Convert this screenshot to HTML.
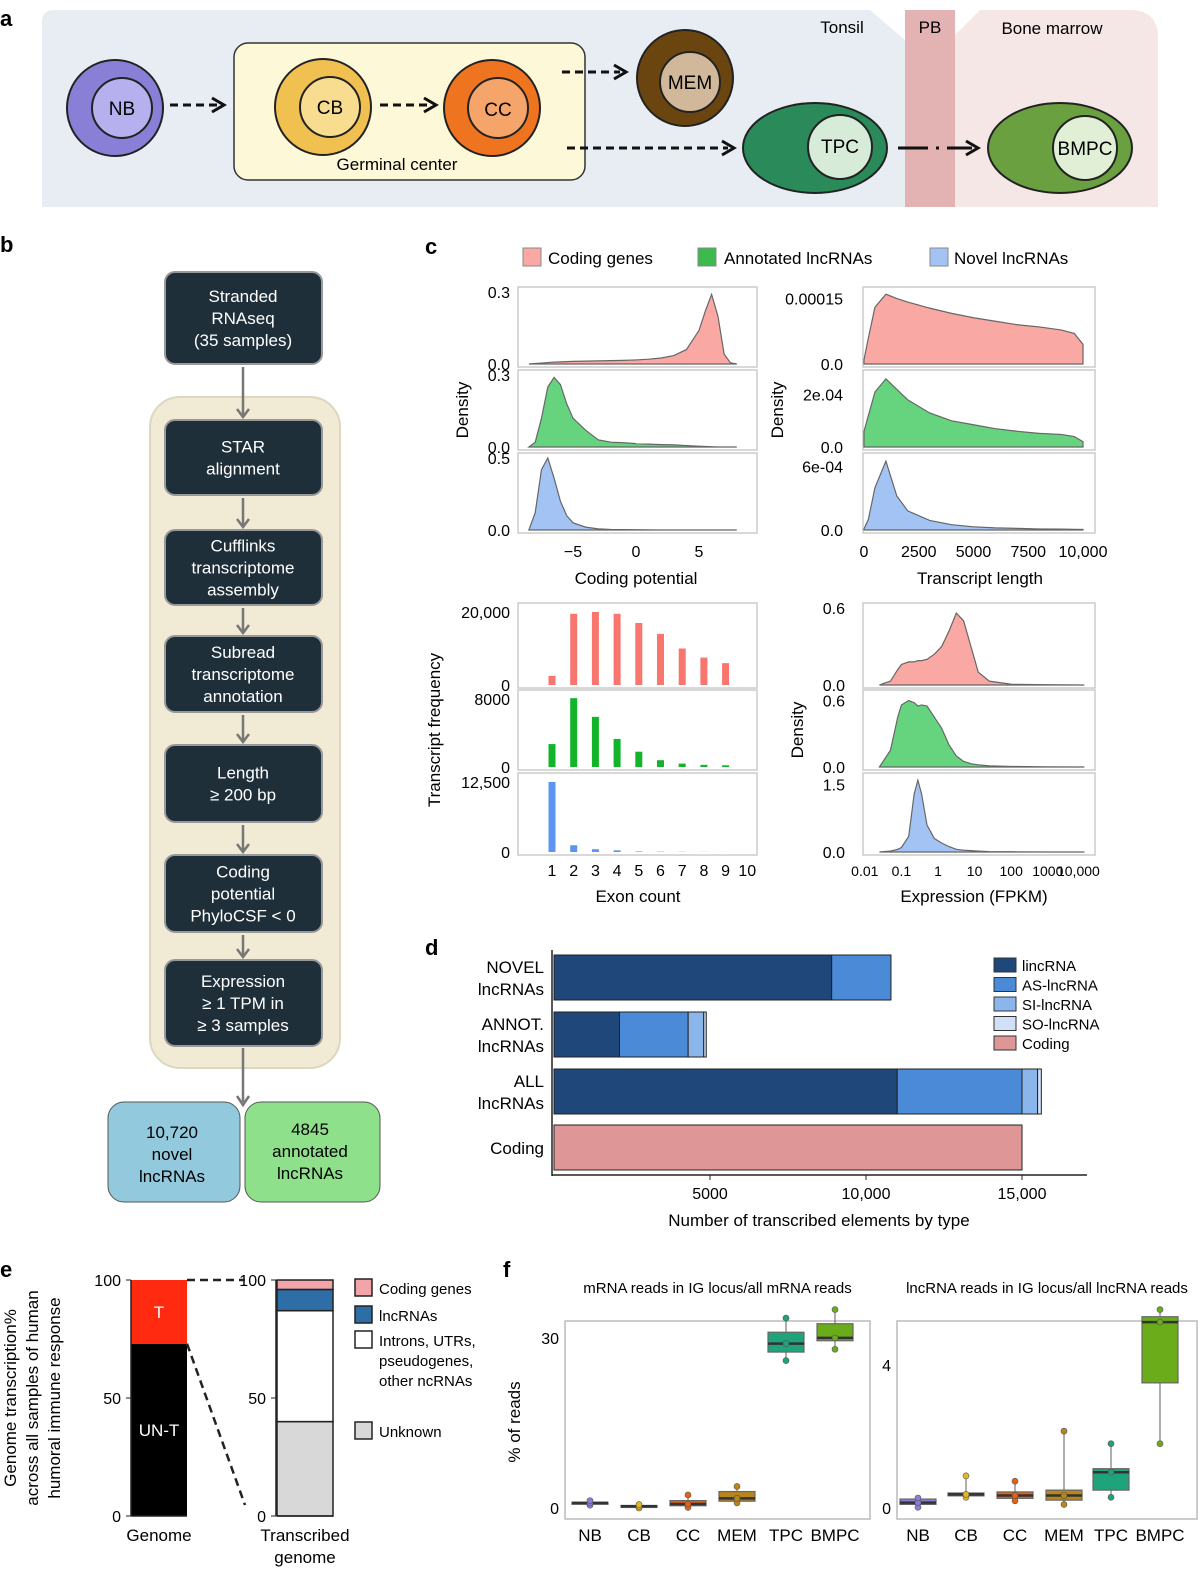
<!DOCTYPE html>
<html><head><meta charset="utf-8"><style>
html,body{margin:0;padding:0;background:#fff}
svg{display:block;font-family:"Liberation Sans",sans-serif}
</style></head><body>
<svg id="fig" width="1200" height="1580" viewBox="0 0 1200 1580" xmlns="http://www.w3.org/2000/svg">
<!-- Panel a -->
<g>
<text x="0" y="26" font-size="22" font-weight="bold">a</text>
<path d="M42,22 Q42,10 54,10 L870,10 L905,40 L905,207 L42,207 Z" fill="#e8edf4"/>
<path d="M905,10 L955,10 L955,207 L905,207 Z" fill="#e3b3b3"/>
<path d="M980,10 L1130,10 Q1158,10 1158,38 L1158,207 L955,207 L955,35 Z" fill="#f6e7e7"/>
<text x="842" y="33" font-size="17" text-anchor="middle">Tonsil</text>
<text x="930" y="33" font-size="17" text-anchor="middle">PB</text>
<text x="1052" y="34" font-size="17" text-anchor="middle">Bone marrow</text>
<rect x="234" y="43" width="351" height="137" rx="14" fill="#fdf8d8" stroke="#333" stroke-width="1.5"/>
<text x="397" y="170" font-size="17" text-anchor="middle">Germinal center</text>
<circle cx="115" cy="108" r="48" fill="#8a7fd6" stroke="#222" stroke-width="2"/>
<circle cx="122" cy="108" r="30" fill="#b7b0ee" stroke="#222" stroke-width="2"/>
<text x="122" y="115" font-size="19" text-anchor="middle">NB</text>
<circle cx="323" cy="107" r="48" fill="#f0c050" stroke="#222" stroke-width="2"/>
<circle cx="330" cy="107" r="30" fill="#f8dc90" stroke="#222" stroke-width="2"/>
<text x="330" y="114" font-size="19" text-anchor="middle">CB</text>
<circle cx="492" cy="108" r="48" fill="#ee7420" stroke="#222" stroke-width="2"/>
<circle cx="498" cy="108" r="30" fill="#f6a56a" stroke="#222" stroke-width="2"/>
<text x="498" y="116" font-size="19" text-anchor="middle">CC</text>
<circle cx="685" cy="78" r="48" fill="#6b4510" stroke="#222" stroke-width="2"/>
<circle cx="690" cy="82" r="30" fill="#d2b89a" stroke="#222" stroke-width="2"/>
<text x="690" y="89" font-size="19" text-anchor="middle">MEM</text>
<ellipse cx="815" cy="148" rx="72" ry="45" fill="#2a8a5a" stroke="#222" stroke-width="2"/>
<circle cx="840" cy="147" r="32" fill="#d6ecd8" stroke="#222" stroke-width="2"/>
<text x="840" y="153" font-size="19" text-anchor="middle">TPC</text>
<ellipse cx="1060" cy="148" rx="72" ry="45" fill="#6aa040" stroke="#222" stroke-width="2"/>
<circle cx="1085" cy="148" r="32" fill="#e0efd6" stroke="#222" stroke-width="2"/>
<text x="1085" y="155" font-size="19" text-anchor="middle">BMPC</text>
<g stroke="#111" stroke-width="3" fill="none">
<line x1="170" y1="105" x2="218" y2="105" stroke-dasharray="8,5"/><path d="M212,98 L224,105 L212,112"/>
<line x1="380" y1="105" x2="430" y2="105" stroke-dasharray="8,5"/><path d="M424,98 L436,105 L424,112"/>
<line x1="562" y1="72" x2="620" y2="72" stroke-dasharray="8,5"/><path d="M614,65 L626,72 L614,79"/>
<line x1="567" y1="148" x2="728" y2="148" stroke-dasharray="8,5"/><path d="M722,141 L734,148 L722,155"/>
<line x1="898" y1="148" x2="972" y2="148" stroke-dasharray="30,8,3,8"/><path d="M966,141 L978,148 L966,155"/>
</g>
</g>

<!-- Panel b -->
<g font-size="17">
<text x="0" y="252" font-size="22" font-weight="bold">b</text>
<rect x="150" y="397" width="190" height="671" rx="30" fill="#f1ebd5" stroke="#ddd6c0" stroke-width="2"/>
<g id="flow"></g>
<rect x="108" y="1102" width="132" height="100" rx="16" fill="#92c9dc" stroke="#555"/>
<text x="172" y="1138" text-anchor="middle">10,720</text>
<text x="172" y="1160" text-anchor="middle">novel</text>
<text x="172" y="1182" text-anchor="middle">lncRNAs</text>
<rect x="245" y="1102" width="135" height="100" rx="16" fill="#8fe08a" stroke="#555"/>
<text x="310" y="1135" text-anchor="middle">4845</text>
<text x="310" y="1157" text-anchor="middle">annotated</text>
<text x="310" y="1179" text-anchor="middle">lncRNAs</text>
</g>

<!-- Panel c -->
<g>
<text x="425" y="254" font-size="22" font-weight="bold">c</text>
<rect x="523" y="248" width="18" height="18" fill="#f9a8a3" stroke="#888"/>
<text x="548" y="264" font-size="17">Coding genes</text>
<rect x="698" y="248" width="18" height="18" fill="#3dba4e" stroke="#888"/>
<text x="724" y="264" font-size="17">Annotated lncRNAs</text>
<rect x="930" y="248" width="18" height="18" fill="#a3c3f5" stroke="#888"/>
<text x="954" y="264" font-size="17">Novel lncRNAs</text>
<g id="cplots"></g>
</g>

<!-- Panel d -->
<g>
<text x="425" y="955" font-size="22" font-weight="bold">d</text>
<g id="dplot"></g>
</g>

<!-- Panel e -->
<g>
<text x="0" y="1277" font-size="22" font-weight="bold">e</text>
<g id="eplot"></g>
</g>

<!-- Panel f -->
<g>
<text x="503" y="1277" font-size="22" font-weight="bold">f</text>
<g id="fplot"></g>
</g>
</svg>
<script>
// ===== Panel c data =====
const cpX = [-8.5,-8,-7.5,-7,-6.5,-6,-5.5,-5,-4,-3,-2,-1,0,1,2,3,4,5,5.5,6,6.5,7,7.5,8];
const cpCoding = [0,0.002,0.004,0.006,0.008,0.009,0.01,0.011,0.012,0.013,0.014,0.015,0.017,0.02,0.025,0.035,0.06,0.14,0.22,0.29,0.2,0.04,0.005,0];
const cpAnnot = [0,0.02,0.12,0.25,0.29,0.26,0.18,0.12,0.07,0.03,0.02,0.018,0.014,0.012,0.01,0.009,0.006,0.003,0.002,0.001,0,0,0,0];
const cpNovel = [0,0.12,0.42,0.5,0.36,0.2,0.1,0.05,0.02,0.008,0.004,0.003,0.002,0.001,0,0,0,0,0,0,0,0,0,0];
const tlX = [0,200,500,1000,1500,2000,3000,4000,5000,6000,7000,8000,9000,9600,10000];
const tlCoding = [0.00001,0.00006,0.00013,0.00016,0.00015,0.000142,0.000128,0.000116,0.000106,0.000098,0.00009,0.000085,0.000078,0.00007,0.000045];
const tlAnnot = [0.00006,0.00012,0.00021,0.00026,0.00022,0.00018,0.00013,0.0001,0.000085,0.00007,0.00006,0.000052,0.000048,0.00004,0.00002];
const tlNovel = [0.00001,0.0001,0.0004,0.00065,0.00032,0.00018,0.00009,0.00005,0.00003,0.00002,0.000015,0.00001,0.000008,0.000006,0.000005];
const exonCats = [1,2,3,4,5,6,7,8,9];
const exonCoding = [2500,19500,20000,19500,17000,14000,10000,7500,6000];
const exonAnnot = [2700,8100,5900,3300,1800,800,400,250,200];
const exonNovel = [12500,1200,500,300,100,60,40,20,10];
const exLogX = [-1.6,-1.3,-1.1,-1,-0.8,-0.65,-0.55,-0.45,-0.3,-0.1,0.1,0.3,0.5,0.7,0.9,1.1,1.4,2,3,4];
const exCoding = [0,0.03,0.12,0.16,0.18,0.18,0.19,0.19,0.2,0.24,0.3,0.42,0.56,0.5,0.3,0.1,0.03,0.006,0.002,0];
const exAnnot = [0,0.15,0.45,0.56,0.6,0.58,0.55,0.56,0.55,0.45,0.35,0.2,0.1,0.05,0.03,0.02,0.01,0.005,0.001,0];
const exNovel = [0,0.02,0.06,0.1,0.35,1.3,1.6,1.3,0.6,0.3,0.2,0.12,0.06,0.04,0.03,0.02,0.01,0.005,0,0];
// ===== Panel d data =====
const dCats = ["NOVEL|lncRNAs","ANNOT.|lncRNAs","ALL|lncRNAs","Coding"];
const dLinc = [8900,2100,11000,0];
const dAS = [1900,2200,4000,0];
const dSI = [0,500,500,0];
const dSO = [0,80,120,0];
const dCoding = [0,0,0,15000];
const dTicks = [5000,10000,15000];
const dTickLabels = ["5000","10,000","15,000"];
// ===== Panel e data =====
const eGenome = [73,27];
const eTranscribed = [40,47,9,4];
// ===== Panel f data =====
const fCats = ["NB","CB","CC","MEM","TPC","BMPC"];
const fMrna = [[0.5,0.7,0.9,1.0,1.3],[0,0.2,0.3,0.45,0.6],[0.1,0.4,0.7,1.3,2.3],[0.9,1.2,1.7,2.9,3.8],[26,27.5,29,31,33.5],[28,29.5,30,32.5,35]];
const fLnc = [[0.02,0.1,0.15,0.25,0.28],[0.3,0.34,0.38,0.42,0.9],[0.2,0.27,0.35,0.45,0.75],[0.1,0.22,0.35,0.5,2.15],[0.3,0.5,1.0,1.1,1.8],[1.8,3.5,5.2,5.35,5.55]];

const NS='http://www.w3.org/2000/svg';
function mk(parent,tag,attrs,txt){const e=document.createElementNS(NS,tag);for(const k in attrs)e.setAttribute(k,attrs[k]);if(txt!==undefined)e.textContent=txt;parent.appendChild(e);return e;}

// ===== Flowchart =====
const flow=document.getElementById('flow');
const steps=[["Stranded","RNAseq","(35 samples)"],["STAR","alignment"],["Cufflinks","transcriptome","assembly"],["Subread","transcriptome","annotation"],["Length","≥ 200 bp"],["Coding","potential","PhyloCSF < 0"],["Expression","≥ 1 TPM in","≥ 3 samples"]];
const stepY=[[272,364],[420,495],[530,605],[636,712],[745,822],[855,932],[960,1046]];
steps.forEach((s,i)=>{
  const [y0,y1]=stepY[i];
  const r=mk(flow,'rect',{x:165,y:y0,width:157,height:y1-y0,rx:10,fill:'#1e2f3a',stroke:'#999','stroke-width':2});
  
  
  const mid=(y0+y1)/2, n=s.length;
  s.forEach((l,j)=>{const t=mk(flow,'text',{x:243,y:mid+(j-(n-1)/2)*22+6,'text-anchor':'middle',fill:'#fff','font-size':17},l);
    
    });
  if(i<steps.length-1){const a=mk(flow,'g',{});
    
    
    const ny=stepY[i+1][0];
    mk(a,'line',{x1:243,y1:y1+3,x2:243,y2:ny-4,stroke:'#777','stroke-width':2.5});
    mk(a,'path',{d:`M237,${ny-11} L243,${ny-3} L249,${ny-11}`,stroke:'#777','stroke-width':2.5,fill:'none'});}
});
{const a=mk(flow,'g',{});


mk(a,'line',{x1:243,y1:1048,x2:243,y2:1102,stroke:'#777','stroke-width':2.5});
mk(a,'path',{d:'M237,1096 L243,1105 L249,1096',stroke:'#777','stroke-width':2.5,fill:'none'});}

// ===== Panel c plots =====
const cp=document.getElementById('cplots');
const COL=['#f9a8a3','#66d47f','#a3c3f5'];
function panelBox(x0,y0,x1,y1){const r=mk(cp,'rect',{x:x0,y:y0,width:x1-x0,height:y1-y0,fill:'#fff',stroke:'#ccc','stroke-width':1.5});
  
  }
function densityFacet(xs,ys,xf,ymax,y0,y1,color,tickV,tickL){
  const base=y1-3, top=y0+5;
  const yf=v=>base-(v/ymax)*(base-top);
  let d=`M${xf(xs[0])},${base}`;
  xs.forEach((x,i)=>d+=` L${xf(x)},${yf(ys[i])}`);
  d+=` L${xf(xs[xs.length-1])},${base} Z`;
  const p=mk(cp,'path',{d:d,fill:color,stroke:'#666','stroke-width':1.2});
  
  
  const t0=mk(cp,'text',{x:tickX,y:base+6,'text-anchor':'end','font-size':16},'0.0');
  
  
  const t1=mk(cp,'text',{x:tickX,y:yf(tickV)+6,'text-anchor':'end','font-size':16},tickL);
  
  
}
let tickX=510;
// top-left
const xCP=v=>636+v*12.6;
const rowsT=[[287,367],[370,450],[453,533]];
rowsT.forEach(r=>panelBox(518,r[0],757,r[1]));
densityFacet(cpX,cpCoding,xCP,0.3,287,367,COL[0],0.3,'0.3');
densityFacet(cpX,cpAnnot,xCP,0.3,370,450,COL[1],0.3,'0.3');
densityFacet(cpX,cpNovel,xCP,0.5,453,533,COL[2],0.5,'0.5');
[-5,0,5].forEach(v=>{const t=mk(cp,'text',{x:xCP(v),y:557,'text-anchor':'middle','font-size':16},v<0?'−5':String(v));
  
  });
{const t=mk(cp,'text',{x:636,y:584,'text-anchor':'middle','font-size':17},'Coding potential');}
{const t=mk(cp,'text',{x:0,y:0,'text-anchor':'middle','font-size':17,transform:'translate(468,410) rotate(-90)'},'Density');}
// top-right
tickX=843;
const xTL=v=>864+v*0.0219;
rowsT.forEach(r=>panelBox(863,r[0],1095,r[1]));
densityFacet(tlX,tlCoding,xTL,0.000165,287,367,COL[0],0.00015,'0.00015');
densityFacet(tlX,tlAnnot,xTL,0.000275,370,450,COL[1],0.0002,'2e.04');
densityFacet(tlX,tlNovel,xTL,0.00068,453,533,COL[2],0.0006,'6e-04');
[0,2500,5000,7500,10000].forEach((v,i)=>{const t=mk(cp,'text',{x:xTL(v),y:557,'text-anchor':'middle','font-size':16},['0','2500','5000','7500','10,000'][i]);
  
  });
{const t=mk(cp,'text',{x:980,y:584,'text-anchor':'middle','font-size':17},'Transcript length');}
{const t=mk(cp,'text',{x:0,y:0,'text-anchor':'middle','font-size':17,transform:'translate(783,410) rotate(-90)'},'Density');}
// bottom-left exon bars
const rowsB=[[603,688],[690,770],[773,855]];
rowsB.forEach(r=>panelBox(518,r[0],757,r[1]));
const xEx=v=>552+(v-1)*21.7;
const barCol=['#f8766d','#13b42a','#5b95f0'];
function barFacet(vals,ymax,y0,y1,color,tickL){
  const base=y1-3, top=y0+9;
  vals.forEach((v,i)=>{const h=v/ymax*(base-top);
    const b=mk(cp,'rect',{x:xEx(exonCats[i])-3.5,y:base-h,width:7,height:h,fill:color});
    
    });
  const t0=mk(cp,'text',{x:510,y:base+6,'text-anchor':'end','font-size':16},'0');
  const t1=mk(cp,'text',{x:510,y:top+6,'text-anchor':'end','font-size':16},tickL);
}
barFacet(exonCoding,20000,603,688,barCol[0],'20,000');
barFacet(exonAnnot,8000,690,770,barCol[1],'8000');
barFacet(exonNovel,12500,773,855,barCol[2],'12,500');
[1,2,3,4,5,6,7,8,9,10].forEach(v=>{const t=mk(cp,'text',{x:xEx(v),y:876,'text-anchor':'middle','font-size':16},String(v));});
{const t=mk(cp,'text',{x:638,y:902,'text-anchor':'middle','font-size':17},'Exon count');}
{const t=mk(cp,'text',{x:0,y:0,'text-anchor':'middle','font-size':17,transform:'translate(440,730) rotate(-90)'},'Transcript frequency');}
// bottom-right expression
tickX=845;
rowsB.forEach(r=>panelBox(863,r[0],1095,r[1]));
const xLg=v=>938+v*36.6;
densityFacet(exLogX,exCoding,xLg,0.6,603,688,COL[0],0.6,'0.6');
densityFacet(exLogX,exAnnot,xLg,0.65,690,770,COL[1],0.6,'0.6');
densityFacet(exLogX,exNovel,xLg,1.65,773,855,COL[2],1.5,'1.5');
[-2,-1,0,1,2,3,4].forEach((v,i)=>{const t=mk(cp,'text',{x:xLg(v)-(v==4?6:0),y:876,'text-anchor':'middle','font-size':14},['0.01','0.1','1','10','100','1000','10,000'][i]);});
{const t=mk(cp,'text',{x:974,y:902,'text-anchor':'middle','font-size':17},'Expression (FPKM)');}
{const t=mk(cp,'text',{x:0,y:0,'text-anchor':'middle','font-size':17,transform:'translate(803,730) rotate(-90)'},'Density');}

// ===== Panel d =====
const dp=document.getElementById('dplot');
const xD=v=>554+v*0.0312;
const dRowY=[955,1012,1069,1125];
const dSeries=[[dLinc,'#1f477a'],[dAS,'#4a8ad6'],[dSI,'#8ab6ec'],[dSO,'#d0e0f6'],[dCoding,'#de9696']];
dCats.forEach((c,i)=>{
  let acc=0;
  dSeries.forEach(([arr,col])=>{const v=arr[i];if(v>0){
    const r=mk(dp,'rect',{x:xD(acc),y:dRowY[i],width:xD(acc+v)-xD(acc),height:45,fill:col,stroke:'#222','stroke-width':1});
    
    
    acc+=v;}});
  const parts=c.split('|');
  parts.forEach((p,j)=>{const t=mk(dp,'text',{x:544,y:dRowY[i]+29+(j-(parts.length-1)/2)*22,'text-anchor':'end','font-size':17},p);
    
    });
});
mk(dp,'line',{x1:552,y1:1175,x2:1087,y2:1175,stroke:'#222','stroke-width':1.5});
mk(dp,'line',{x1:552,y1:950,x2:552,y2:1176,stroke:'#222','stroke-width':1.5});
dTicks.forEach((v,i)=>{mk(dp,'line',{x1:xD(v),y1:1175,x2:xD(v),y2:1180,stroke:'#222'});
  const t=mk(dp,'text',{x:xD(v),y:1199,'text-anchor':'middle','font-size':16},dTickLabels[i]);
  
  });
{const t=mk(dp,'text',{x:819,y:1226,'text-anchor':'middle','font-size':17},'Number of transcribed elements by type');}
const dLeg=['lincRNA','AS-lncRNA','SI-lncRNA','SO-lncRNA','Coding'];
dLeg.forEach((l,i)=>{const g=mk(dp,'g',{});
  
  
  mk(g,'rect',{x:994,y:958+i*19.5,width:22,height:14,fill:dSeries[i][1],stroke:'#333'});
  mk(g,'text',{x:1022,y:971+i*19.5,'font-size':15},l);});

// ===== Panel e =====
const ep=document.getElementById('eplot');
const yE=v=>1516-v*2.36;
{let acc=0;const cols=['#000','#ff2a10'],labs=['UN-T','T'];
 eGenome.forEach((v,i)=>{const r=mk(ep,'rect',{x:131,y:yE(acc+v),width:56,height:v*2.36,fill:cols[i]});
   
   
   const t=mk(ep,'text',{x:159,y:yE(acc+v/2)+6,'text-anchor':'middle','font-size':17,fill:'#fff'},labs[i]);
   
   
   acc+=v;});}
{let acc=0;const cols=['#d8d8d8','#fff','#2e6ea6','#f1a4aa'];
 eTranscribed.forEach((v,i)=>{const r=mk(ep,'rect',{x:277,y:yE(acc+v),width:56,height:v*2.36,fill:cols[i],stroke:'#222','stroke-width':1.5});
   
   
   acc+=v;});}
[[117,131],[262,276]].forEach(([tx,ax])=>{
  mk(ep,'line',{x1:ax,y1:1280,x2:ax,y2:1516,stroke:'#222','stroke-width':1.5});
  [0,50,100].forEach(v=>{mk(ep,'line',{x1:ax-5,y1:yE(v),x2:ax,y2:yE(v),stroke:'#222'});
    const t=mk(ep,'text',{x:tx-12+ (ax==131?16:16),y:yE(v)+6,'text-anchor':'end','font-size':16},String(v));
    
    });
});
mk(ep,'line',{x1:131,y1:1516,x2:187,y2:1516,stroke:'#222','stroke-width':1.5});
mk(ep,'line',{x1:277,y1:1516,x2:333,y2:1516,stroke:'#222','stroke-width':1.5});
mk(ep,'line',{x1:187,y1:1280,x2:245,y2:1280,stroke:'#222','stroke-width':2.5,'stroke-dasharray':'8,5'});
mk(ep,'line',{x1:187,y1:yE(73),x2:245,y2:1505,stroke:'#222','stroke-width':2.5,'stroke-dasharray':'8,5'});
{const t=mk(ep,'text',{x:159,y:1541,'text-anchor':'middle','font-size':17},'Genome');}
{const t=mk(ep,'text',{x:305,y:1541,'text-anchor':'middle','font-size':17},'Transcribed');}
{const t=mk(ep,'text',{x:305,y:1563,'text-anchor':'middle','font-size':17},'genome');}
['Genome transcription%','across all samples of human','humoral immune response'].forEach((l,i)=>{
  const t=mk(ep,'text',{x:0,y:0,'text-anchor':'middle','font-size':17,transform:`translate(${16+i*22},1398) rotate(-90)`},l);
  
  });
const eLeg=[['#f1a4aa',['Coding genes']],['#2e6ea6',['lncRNAs']],['#fff',['Introns, UTRs,','pseudogenes,','other ncRNAs']],['#d8d8d8',['Unknown']]];
const eLegY=[1288,1315,1340,1431];
eLeg.forEach(([c,ls],i)=>{const g=mk(ep,'g',{});
  
  
  mk(g,'rect',{x:355,y:eLegY[i]-9,width:17,height:17,fill:c,stroke:'#222','stroke-width':1.5});
  ls.forEach((l,j)=>mk(g,'text',{x:379,y:eLegY[i]+6+j*20,'font-size':15},l));});

// ===== Panel f =====
const fp=document.getElementById('fplot');
const fCol=['#8a7fd6','#e8b820','#e86010','#b8861a','#1fa37a','#6aac1a'];
function boxPanel(x0,x1,data,yf,ticks,title,centers){
  const r=mk(fp,'rect',{x:x0,y:1321,width:x1-x0,height:198,fill:'#fff',stroke:'#bbb','stroke-width':1.5});
  
  
  const t=mk(fp,'text',{x:(x0+x1)/2,y:1293,'text-anchor':'middle','font-size':15},title);
  
  
  ticks.forEach(v=>{const tt=mk(fp,'text',{x:x0-6,y:yf(v)+6,'text-anchor':'end','font-size':16},String(v));
    
    });
  data.forEach((d,i)=>{const cx=centers[i];const g=mk(fp,'g',{});
    
    
    mk(g,'line',{x1:cx,y1:yf(d[0]),x2:cx,y2:yf(d[4]),stroke:'#777','stroke-width':1.2});
    mk(g,'rect',{x:cx-18,y:yf(d[3]),width:36,height:Math.max(2,yf(d[1])-yf(d[3])),fill:fCol[i],stroke:'#666','stroke-width':1.2});
    mk(g,'line',{x1:cx-18,y1:yf(d[2]),x2:cx+18,y2:yf(d[2]),stroke:'#333','stroke-width':2.5});
    [0,2,4].forEach(k=>mk(g,'circle',{cx:cx,cy:yf(d[k]),r:3,fill:fCol[i],stroke:'#555','stroke-width':0.6}));
    const lt=mk(fp,'text',{x:cx,y:1541,'text-anchor':'middle','font-size':17},fCats[i]);
    
    });
}
boxPanel(565,870,fMrna,v=>1508-v*5.67,[0,30],'mRNA reads in IG locus/all mRNA reads',[590,639,688,737,786,835]);
boxPanel(897,1197,fLnc,v=>1508-v*35.75,[0,4],'lncRNA reads in IG locus/all lncRNA reads',[918,966,1015,1064,1111,1160]);
{const t=mk(fp,'text',{x:0,y:0,'text-anchor':'middle','font-size':17,transform:'translate(520,1422) rotate(-90)'},'% of reads');}
</script>
</body></html>
